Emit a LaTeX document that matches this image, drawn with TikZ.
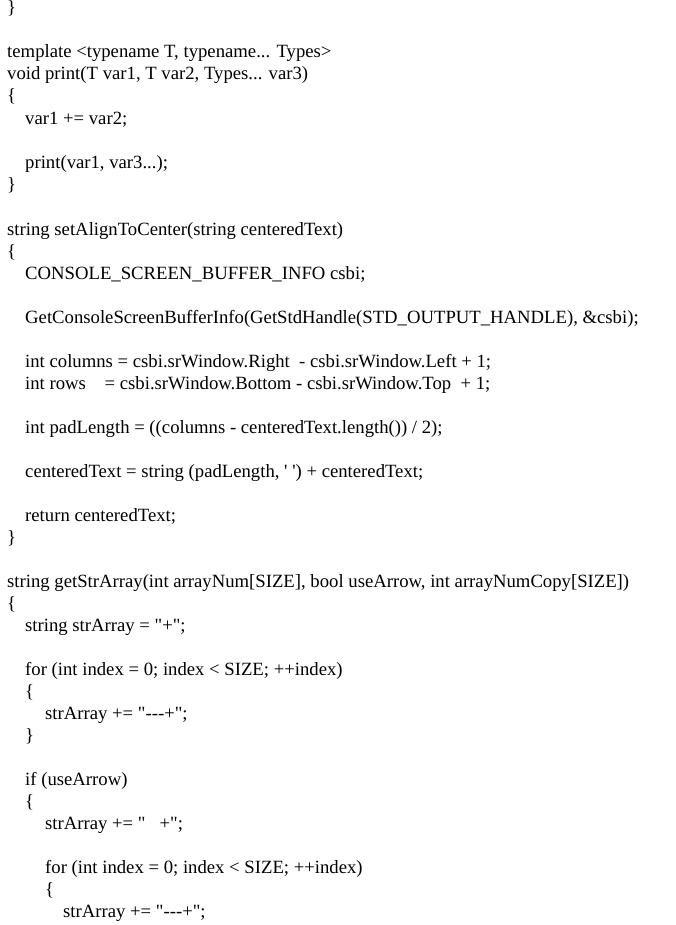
\documentclass[tikz,border=0pt]{standalone}
\usepackage{fontspec}
\newfontfamily\code{Liberation Serif}
\begin{document}
\begin{tikzpicture}[x=1pt,y=1pt,ln/.style={anchor=base west,inner sep=0pt,font=\code\fontsize{18.7}{22}\selectfont}]
\useasboundingbox (0,0) rectangle (675,-925);
\def\L#1#2#3{\node[ln] (n#1) at (#2,-#1-6) {#3};}
\L{8}{7}{\}}
\L{52}{7}{template <typename T, typename... Types>}
\L{74}{7}{void print(T var1, T var2, Types... var3)}
\L{96}{7}{\{}
\L{119}{25}{var1 += var2;}
\L{163}{25}{print(var1, var3...);}
\L{185}{7}{\}}
\L{230}{7}{string setAlignToCenter(string centeredText)}
\L{251}{7}{\{}
\L{273}{25}{CONSOLE\_SCREEN\_BUFFER\_INFO csbi;}
\L{317}{25}{GetConsoleScreenBufferInfo(GetStdHandle(STD\_OUTPUT\_HANDLE), \&csbi);}
\L{361}{25}{int columns = csbi.srWindow.Right \ - csbi.srWindow.Left + 1;}
\L{383}{25}{int rows \ \ \ = csbi.srWindow.Bottom - csbi.srWindow.Top \ + 1;}
\L{427}{25}{int padLength = ((columns - centeredText.length()) / 2);}
\L{471}{25}{centeredText = string (padLength, ' ') + centeredText;}
\L{515}{25}{return centeredText;}
\L{537}{7}{\}}
\L{581}{7}{string getStrArray(int arrayNum[SIZE], bool useArrow, int arrayNumCopy[SIZE])}
\L{603}{7}{\{}
\L{625}{25}{string strArray = "+";}
\L{669}{25}{for (int index = 0; index < SIZE; ++index)}
\L{691}{25}{\{}
\L{713}{45}{strArray += "---+";}
\L{735}{25}{\}}
\L{779}{25}{if (useArrow)}
\L{801}{25}{\{}
\L{823}{45}{strArray += " \ \ +";}
\L{867}{45}{for (int index = 0; index < SIZE; ++index)}
\L{889}{45}{\{}
\L{911}{63}{strArray += "---+";}
\end{tikzpicture}
\end{document}
